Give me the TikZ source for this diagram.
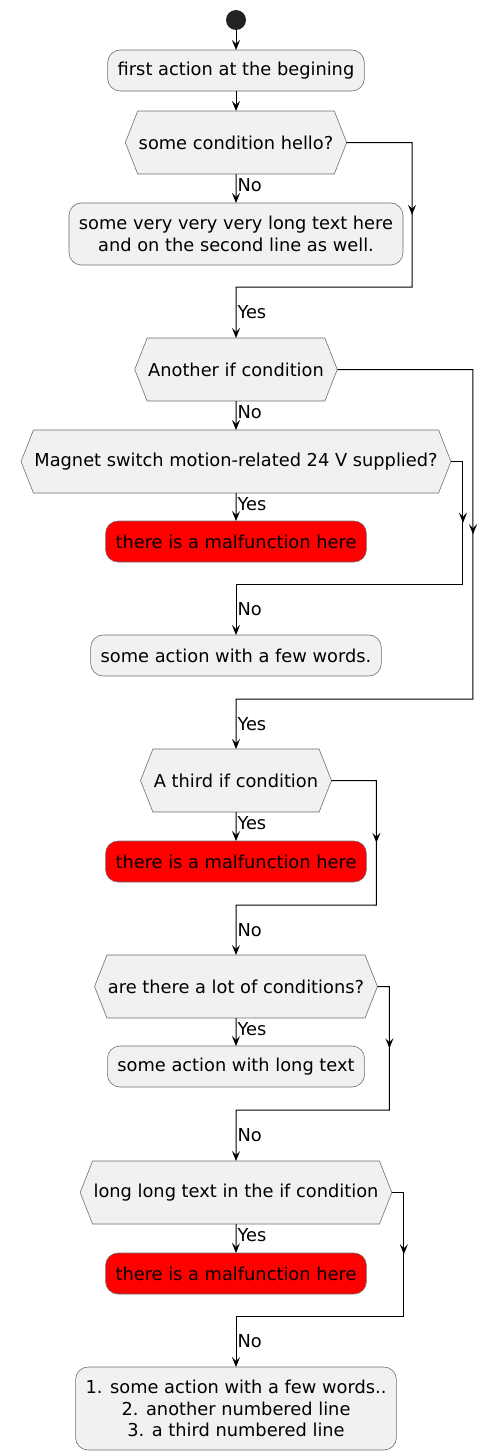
\documentclass[tikz,border=0pt]{standalone}
\usepackage{fontspec}
\setmainfont{DejaVu Sans}
\usepackage{xcolor}
\usetikzlibrary{arrows.meta, positioning, shapes.symbols, decorations.markings}

\definecolor{actfill}{HTML}{F1F1F1}
\definecolor{actline}{HTML}{6E6E6E}
\definecolor{badfill}{HTML}{FF0000}
\definecolor{dotfill}{HTML}{222222}

\begin{document}
\begin{tikzpicture}[
    x=1pt, y=-1pt,
    font=\fontsize{17.8}{21.5}\selectfont,
    line width=1pt,
    >={Stealth[length=10pt, width=8pt, inset=4pt]},
    act/.style={
      rectangle,
      draw=actline,
      line width=0.6pt,
      fill=actfill,
      rounded corners=12.5pt,
      align=center,
      minimum height=41pt,
      inner xsep=10pt,
      inner ysep=4pt,
      outer sep=0pt
    },
    bad/.style={act, fill=badfill},
    cond/.style={
      signal,
      signal to=west and east,
      signal pointer angle=137,
      draw=actline,
      line width=0.6pt,
      fill=actfill,
      minimum height=63pt,
      inner xsep=1pt,
      inner ysep=2pt,
      outer sep=0pt
    },
    startdot/.style={circle, fill=dotfill, minimum size=20pt, inner sep=0pt, outer sep=0pt},
    lbl/.style={inner sep=1pt, anchor=west},
    midarrow/.style={
      postaction={decorate},
      decoration={markings, mark=at position 0.5 with {\arrow{>}}}
    }
  ]
  \useasboundingbox (0,0) rectangle (499,1456);

  % main column
  \node[startdot] (start) at (236,20) {};
  \node[act, below=20pt of start] (first) {first action at the begining};
  \node[cond, below=20pt of first] (c1) {some condition hello?};
  \node[act, below=29pt of c1, minimum height=62pt] (long) {some very very very long text here\\ and on the second line as well.};
  \coordinate[below=22pt of long] (j1);
  \node[cond, below=51pt of j1] (c2) {Another if condition};
  \node[cond, below=29pt of c2] (c3) {Magnet switch motion-related 24 V supplied?};
  \node[bad, below=28pt of c3] (bad1) {there is a malfunction here};
  \coordinate[below=22pt of bad1] (j3);
  \node[act, below=51pt of j3] (few) {some action with a few words.};
  \coordinate[below=23pt of few] (j2);
  \node[cond, below=50pt of j2] (c4) {A third if condition};
  \node[bad, below=29pt of c4] (bad2) {there is a malfunction here};
  \coordinate[below=23pt of bad2] (j4);
  \node[cond, below=50pt of j4] (c5) {are there a lot of conditions?};
  \node[act, below=28pt of c5] (longtxt) {some action with long text};
  \coordinate[below=23pt of longtxt] (j5);
  \node[cond, below=51pt of j5] (c6) {long long text in the if condition};
  \node[bad, below=29pt of c6] (bad3) {there is a malfunction here};
  \coordinate[below=22pt of bad3] (j6);
  \node[act, below=51pt of j6, minimum height=83pt] (last) {1. some action with a few words..\\2. another numbered line\\3. a third numbered line};

  % right-hand branch lines
  \coordinate[right=9pt of long] (r1);
  \coordinate[right=12pt of c3] (r3);
  \coordinate[right=10pt of r3] (r2);
  \coordinate[right=10pt of bad2] (r4);
  \coordinate[right=12pt of c5] (r5);
  \coordinate[right=12pt of c6] (r6);

  \draw[->] (start) -- (first);
  \draw[->] (first) -- (c1);

  \draw[->] (c1) -- node[lbl, at start, anchor=north west, yshift=-3pt] {No} (long);
  \draw[->] (c1.east) -| (r1 |- j1) -- (j1) -- node[lbl, midway] {Yes} (c2);
  \path[midarrow] (r1 |- c1.east) -- (r1 |- j1);

  \draw[->] (c2) -- node[lbl, at start, anchor=north west, yshift=-3pt] {No} (c3);
  \draw[->] (c2.east) -| (r2 |- j2) -- (j2) -- node[lbl, midway] {Yes} (c4);
  \path[midarrow] (r2 |- c2.east) -- (r2 |- j2);

  \draw[->] (c3) -- node[lbl, at start, anchor=north west, yshift=-3pt] {Yes} (bad1);
  \draw[->] (c3.east) -| (r3 |- j3) -- (j3) -- node[lbl, midway] {No} (few);
  \path[midarrow] (r3 |- c3.east) -- (r3 |- j3);

  \draw[->] (c4) -- node[lbl, at start, anchor=north west, yshift=-3pt] {Yes} (bad2);
  \draw[->] (c4.east) -| (r4 |- j4) -- (j4) -- node[lbl, midway] {No} (c5);
  \path[midarrow] (r4 |- c4.east) -- (r4 |- j4);

  \draw[->] (c5) -- node[lbl, at start, anchor=north west, yshift=-3pt] {Yes} (longtxt);
  \draw[->] (c5.east) -| (r5 |- j5) -- (j5) -- node[lbl, midway] {No} (c6);
  \path[midarrow] (r5 |- c5.east) -- (r5 |- j5);

  \draw[->] (c6) -- node[lbl, at start, anchor=north west, yshift=-3pt] {Yes} (bad3);
  \draw[->] (c6.east) -| (r6 |- j6) -- (j6) -- node[lbl, midway] {No} (last);
  \path[midarrow] (r6 |- c6.east) -- (r6 |- j6);
\end{tikzpicture}
\end{document}
